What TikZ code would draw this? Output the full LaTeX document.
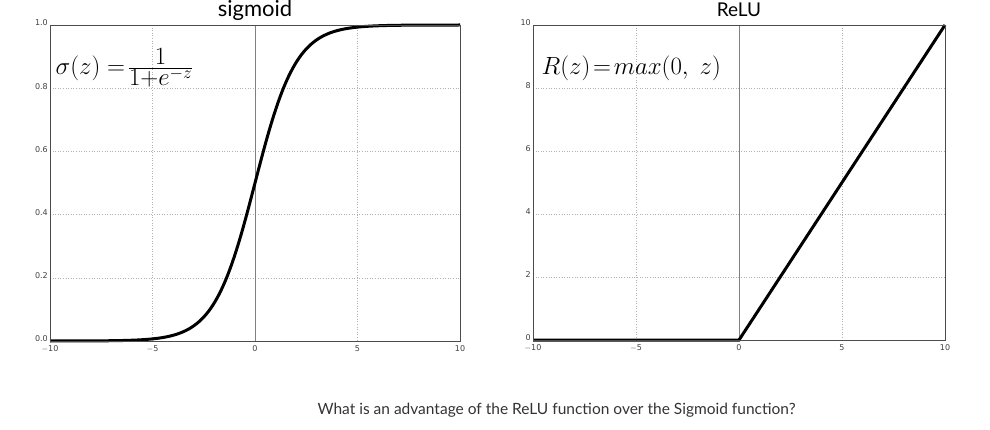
\documentclass[tikz,border=0pt]{standalone}
\usepackage{fontspec}
\setmainfont{Lato}
\newfontfamily\tickfont{DejaVu Sans}
\begin{document}
\begin{tikzpicture}[x=1pt,y=-1pt,
  grid/.style={gray!60,dotted,line width=0.6pt},
  axis/.style={black!70,line width=0.8pt},
  curve/.style={black,line width=3pt},
  tick/.style={font=\tickfont\fontsize{8}{9}\selectfont,text=black!75,inner sep=1pt}]
\useasboundingbox (0,0) rectangle (990,430);
% left plot
\foreach \v in {0.2,0.4,0.6,0.8} \draw[grid] (50,{341-316*\v}) -- (460,{341-316*\v});
\foreach \v in {-5,5} \draw[grid] ({255+20.5*\v},25) -- ({255+20.5*\v},341);
\draw[black!50,line width=0.5pt] (255,25) -- (255,341);
\draw[curve] (50,341) -- plot[domain=-8:8,samples=200] ({255+20.5*\x},{341-316/(1+exp(-\x))}) -- (460,25);
\draw[axis] (50,25) rectangle (460,341);
\foreach \v/\l in {0/0.0,0.2/0.2,0.4/0.4,0.6/0.6,0.8/0.8,1/1.0} \node[tick,anchor=east] (ly\l) at (49,{339-316*\v}) {\l};
\foreach \v/\l in {-10/$-$10,-5/$-$5,0/0,5/5,10/10} \node[tick,anchor=north] (lx\v) at ({255+20.5*\v},344) {\l};
\node[font=\fontsize{22}{24}\selectfont] (t1) at (255,10) {sigmoid};
\node[anchor=west,font=\fontsize{34}{36}\selectfont] (f1) at (52,68) {$\sigma(z)=\!\frac{1}{1+e^{-z}}$};
% right plot
\foreach \v in {2,4,6,8} \draw[grid] (533,{340-31.5*\v}) -- (945,{340-31.5*\v});
\foreach \v in {-5,5} \draw[grid] ({739+20.6*\v},25) -- ({739+20.6*\v},340);
\draw[black!50,line width=0.5pt] (739,25) -- (739,340);
\draw[curve] (533,340) -- (739,340) -- (945,25);
\draw[axis] (533,25) rectangle (945,340);
\foreach \v in {0,2,4,6,8,10} \node[tick,anchor=east] (ry\v) at (532,{338-31.5*\v}) {\v};
\foreach \v/\l in {-10/$-$10,-5/$-$5,0/0,5/5,10/10} \node[tick,anchor=north] (rx\v) at ({739+20.6*\v},343) {\l};
\node[font=\fontsize{19}{20}\selectfont] (t2) at (739,10) {ReLU};
\node[anchor=west,font=\fontsize{24}{26}\selectfont] (f2) at (538,68) {$R(z)\!=\!max(0,\;z)$};
% question
\node[anchor=west,font=\fontsize{15.5}{18}\selectfont,text=black!80] (q) at (314,410) {What is an advantage of the ReLU function over the Sigmoid function?};
\end{tikzpicture}
\end{document}
